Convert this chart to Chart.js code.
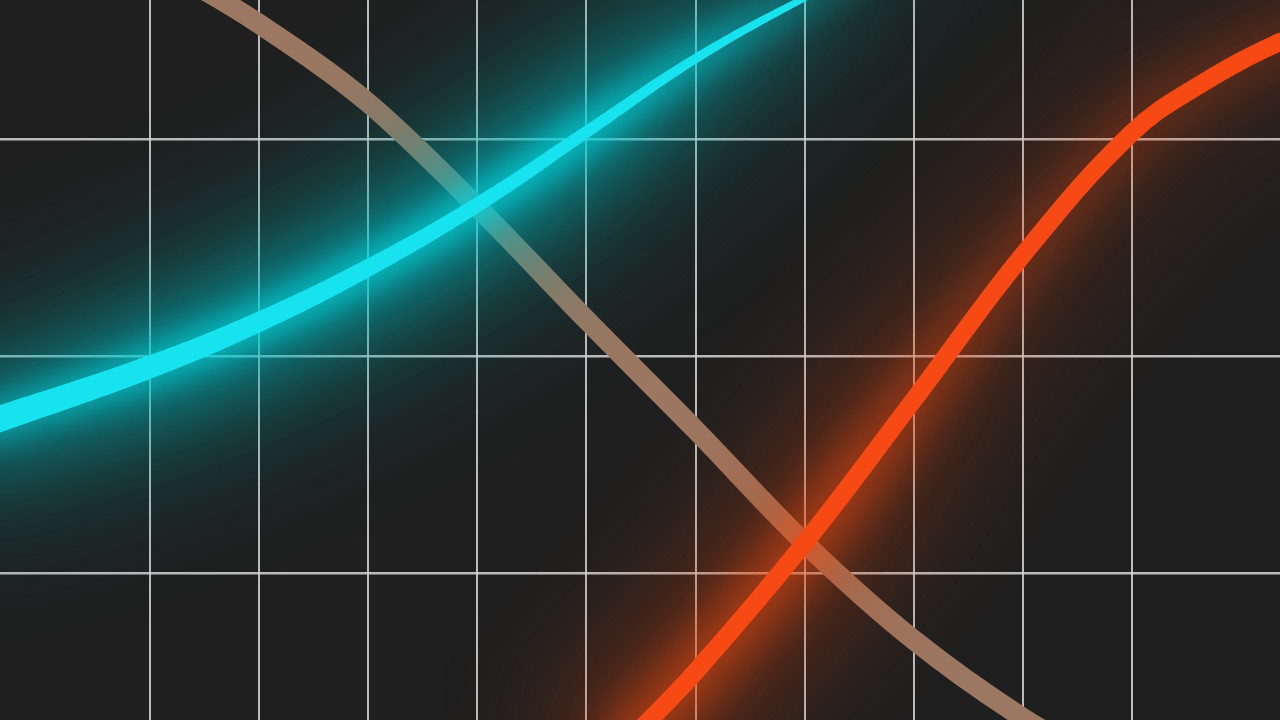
<!DOCTYPE html>
<html>
<head>
<meta charset="utf-8">
<script src="https://cdn.jsdelivr.net/npm/chart.js@4.4.1/dist/chart.umd.min.js"></script>
<style>
  html, body { margin: 0; padding: 0; background: #1f1f1f; overflow: hidden; }
  #c { display: block; }
</style>
</head>
<body>
<canvas id="c" width="1280" height="720"></canvas>
<script>
// ---- data (grid units: vertical grid lines at x = 1..10, horizontal at y = 1..3) ----
const gridX = [1, 2, 3, 4, 5, 6, 7, 8, 9, 10];
const gridY = [1, 2, 3];

const cyanX = [-0.6, -0.375, 1, 2, 3, 4, 5, 6, 7, 8];
const cyanY = [1.673, 1.710, 1.949, 2.157, 2.406, 2.696, 3.032, 3.370, 3.650, 3.900];

const brownX = [1, 1.458, 2, 3, 4, 5, 6, 7, 8, 9, 10];
const brownY = [3.816, 3.696, 3.530, 3.166, 2.687, 2.166, 1.659, 1.138, 0.691, 0.332, 0.046];

const orangeX = [5.4, 6, 7, 8, 9, 10, 10.62, 11.357, 11.8];
const orangeY = [0.230, 0.544, 1.138, 1.797, 2.465, 3.028, 3.249, 3.447, 3.525];

const toPoints = (xs, ys) => xs.map((x, i) => ({ x: x, y: ys[i] }));

// sample the bezier path that Chart.js computed for a line dataset
function samplePath(pts, steps) {
  const out = [];
  for (let i = 0; i < pts.length - 1; i++) {
    const p0 = pts[i], p1 = pts[i + 1];
    const c1x = p0.cp2x ?? p0.x, c1y = p0.cp2y ?? p0.y;
    const c2x = p1.cp1x ?? p1.x, c2y = p1.cp1y ?? p1.y;
    for (let s = 0; s < steps; s++) {
      const t = s / steps, u = 1 - t;
      out.push({
        x: u*u*u*p0.x + 3*u*u*t*c1x + 3*u*t*t*c2x + t*t*t*p1.x,
        y: u*u*u*p0.y + 3*u*u*t*c1y + 3*u*t*t*c2y + t*t*t*p1.y
      });
    }
  }
  const last = pts[pts.length - 1];
  out.push({ x: last.x, y: last.y });
  return out;
}

function strokeSamples(ctx, s) {
  ctx.beginPath();
  s.forEach((p, i) => i ? ctx.lineTo(p.x, p.y) : ctx.moveTo(p.x, p.y));
  ctx.stroke();
}

// glow + tapered body plugin
const glowPlugin = {
  id: 'glow',
  beforeDatasetDraw(chart, args) {
    const ds = chart.data.datasets[args.index];
    const ctx = chart.ctx;
    ctx.save();
    const s = samplePath(args.meta.data, 30);
    if (ds.glowLayers) {
      ctx.lineCap = 'round';
      ctx.lineJoin = 'round';
      ds.glowLayers.forEach(g => {
        ctx.filter = 'blur(' + g.blur + 'px)';
        const grad = ctx.createLinearGradient(0, 0, chart.width, 0);
        ds.glowFade.forEach(([pos, a]) => grad.addColorStop(pos, 'rgba(' + g.rgb + ',' + (g.alpha * a) + ')'));
        ctx.strokeStyle = grad;
        ctx.lineWidth = g.width;
        strokeSamples(ctx, s);
      });
      ctx.filter = 'none';
    }
    if (ds.taperWidth) {
      const left = [], right = [];
      for (let i = 0; i < s.length; i++) {
        const a = s[Math.max(0, i - 1)], b = s[Math.min(s.length - 1, i + 1)];
        let dx = b.x - a.x, dy = b.y - a.y;
        const len = Math.hypot(dx, dy) || 1;
        dx /= len; dy /= len;
        const hw = ds.taperWidth(s[i].x) / 2;
        left.push({ x: s[i].x - dy * hw, y: s[i].y + dx * hw });
        right.push({ x: s[i].x + dy * hw, y: s[i].y - dx * hw });
      }
      ctx.beginPath();
      left.forEach((p, i) => i ? ctx.lineTo(p.x, p.y) : ctx.moveTo(p.x, p.y));
      for (let i = right.length - 1; i >= 0; i--) ctx.lineTo(right[i].x, right[i].y);
      ctx.closePath();
      ctx.fillStyle = ds.borderColor;
      ctx.fill();
    }
  },
  afterDatasetDraw(chart) {
    chart.ctx.restore();
  }
};

const bgPlugin = {
  id: 'bg',
  beforeDraw(chart) {
    const ctx = chart.ctx;
    ctx.save();
    ctx.fillStyle = '#1f1f1f';
    ctx.fillRect(0, 0, chart.width, chart.height);
    ctx.restore();
  }
};

const inGrid = (list) => (ctx) => {
  const v = ctx.tick ? ctx.tick.value : null;
  return list.some(g => Math.abs(g - v) < 1e-6) ? 'rgba(215,215,215,0.85)' : 'rgba(0,0,0,0)';
};

new Chart(document.getElementById('c'), {
  type: 'line',
  data: {
    datasets: [
      {
        label: 'cyan',
        data: toPoints(cyanX, cyanY),
        borderColor: '#17e3ef',
        borderWidth: 5,
        glowLayers: [
          { width: 200, blur: 60, rgb: '0,150,150', alpha: 0.38 },
          { width: 90, blur: 35, rgb: '0,200,210', alpha: 0.5 },
          { width: 40, blur: 14, rgb: '0,225,235', alpha: 0.6 }
        ],
        glowFade: [[0, 0.75], [0.15, 1], [0.45, 1], [0.58, 0.55], [0.7, 0.1], [1, 0]],
        taperWidth: (px) => Math.max(6.5, 26 - 0.024 * px),
        borderCapStyle: 'round',
        tension: 0.4,
        pointRadius: 0,
        order: 0
      },
      {
        label: 'orange',
        data: toPoints(orangeX, orangeY),
        borderColor: '#f64914',
        borderWidth: 18,
        glowLayers: [
          { width: 160, blur: 55, rgb: '200,60,10', alpha: 0.36 },
          { width: 55, blur: 22, rgb: '255,80,20', alpha: 0.5 }
        ],
        glowFade: [[0, 1], [0.66, 1], [0.78, 0.55], [1, 0.35]],
        borderCapStyle: 'round',
        tension: 0.4,
        pointRadius: 0,
        order: 1
      },
      {
        label: 'brown',
        data: toPoints(brownX, brownY),
        borderColor: '#9c7761',
        borderWidth: 20,
        borderCapStyle: 'round',
        cubicInterpolationMode: 'monotone',
        pointRadius: 0,
        order: 2
      }
    ]
  },
  options: {
    responsive: false,
    animation: false,
    events: [],
    layout: { padding: 0 },
    plugins: { legend: { display: false }, tooltip: { enabled: false }, title: { display: false } },
    scales: {
      x: {
        type: 'linear',
        min: -0.375,
        max: 11.357,
        ticks: { display: false, stepSize: 1, includeBounds: false },
        border: { display: false },
        grid: { color: inGrid(gridX), lineWidth: 2, drawTicks: false }
      },
      y: {
        type: 'linear',
        min: 0.322,
        max: 3.64,
        ticks: { display: false, stepSize: 1, includeBounds: false },
        border: { display: false },
        grid: { color: inGrid(gridY), lineWidth: 2.5, drawTicks: false }
      }
    }
  },
  plugins: [bgPlugin, glowPlugin]
});
</script>
</body>
</html>
